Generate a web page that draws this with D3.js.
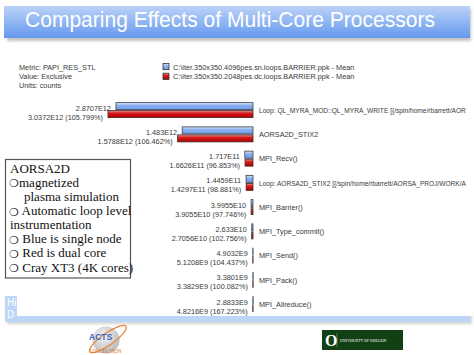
<!DOCTYPE html>
<html>
<head>
<meta charset="utf-8">
<script src="https://cdn.jsdelivr.net/npm/d3@7"></script>
<style>
html,body{margin:0;padding:0;background:#fff;}
svg{display:block;}
</style>
</head>
<body>
<div id="chart"></div>
<script>
// ---- data ----
const categories = [
  "Loop: QL_MYRA_MOD::QL_MYRA_WRITE [{/spin/home/rbarrett/AOR",
  "AORSA2D_STIX2",
  "MPI_Recv()",
  "Loop: AORSA2D_STIX2 [{/spin/home/rbarrett/AORSA_PROJ/WORK/A",
  "MPI_Barrier()",
  "MPI_Type_commit()",
  "MPI_Send()",
  "MPI_Pack()",
  "MPI_Allreduce()"
];
const blueValues = [2.8707e12, 1.483e12, 1.717e11, 1.4459e11, 3.9955e10, 2.633e10, 4.9032e9, 3.3801e9, 2.8833e9];
const redValues  = [3.0372e12, 1.5788e12, 1.6626e11, 1.4297e11, 3.9055e10, 2.7056e10, 5.1208e9, 3.3829e9, 4.8216e9];
const redPercents = [105.799, 106.462, 96.853, 98.881, 97.746, 102.756, 104.437, 100.082, 167.223];
const seriesNames = [
  "C:\\iter.350x350.4096pes.sn.loops.BARRIER.ppk - Mean",
  "C:\\iter.350x350.2048pes.dc.loops.BARRIER.ppk - Mean"
];
const metricLines = ["Metric: PAPI_RES_STL", "Value: Exclusive", "Units: counts"];
const titleText = "Comparing Effects of Multi-Core Processors";
const noteLines = [
  {b: "❍", t: "magnetized", indent: 0},
  {b: "", t: "plasma simulation", indent: 1},
  {b: "❍", t: " Automatic loop level", indent: 0},
  {b: "", t: "instrumentation", indent: 2},
  {b: "❍", t: " Blue is single node", indent: 0},
  {b: "❍", t: " Red is dual core", indent: 0},
  {b: "❍", t: " Cray XT3 (4K cores)", indent: 0}
];

// ---- drawing ----
const W = 474, H = 355;
const svg = d3.select("#chart").append("svg").attr("width", W).attr("height", H);
const defs = svg.append("defs");

const tg = defs.append("linearGradient").attr("id","titleGrad").attr("x1",0).attr("y1",0).attr("x2",0).attr("y2",1);
tg.append("stop").attr("offset",0).attr("stop-color","#bcd2f8");
tg.append("stop").attr("offset",1).attr("stop-color","#6499ee");
const sh = defs.append("filter").attr("id","shadow").attr("x","-5%").attr("y","-20%").attr("width","110%").attr("height","160%");
sh.append("feGaussianBlur").attr("stdDeviation",1.6);

const bg = defs.append("linearGradient").attr("id","blueGrad").attr("x1",0).attr("y1",0).attr("x2",0).attr("y2",1);
bg.append("stop").attr("offset",0).attr("stop-color","#d8e6fc");
bg.append("stop").attr("offset",0.4).attr("stop-color","#8ab1f0");
bg.append("stop").attr("offset",1).attr("stop-color","#6f9be6");
const rg = defs.append("linearGradient").attr("id","redGrad").attr("x1",0).attr("y1",0).attr("x2",0).attr("y2",1);
rg.append("stop").attr("offset",0).attr("stop-color","#f29090");
rg.append("stop").attr("offset",0.4).attr("stop-color","#d41818");
rg.append("stop").attr("offset",1).attr("stop-color","#b50000");

// title bar
svg.append("rect").attr("x",7).attr("y",9).attr("width",464).attr("height",32).attr("fill","#9a9a9a").attr("opacity",0.6).attr("filter","url(#shadow)");
svg.append("rect").attr("x",4).attr("y",6).attr("width",466).attr("height",32).attr("fill","url(#titleGrad)");
svg.append("text").attr("x",25).attr("y",26.5).attr("fill","#fff")
  .attr("font-family","Liberation Sans, Arial, sans-serif").attr("font-size",22.5)
  .attr("textLength",410).attr("lengthAdjust","spacingAndGlyphs").text(titleText);

// bottom band (slide element partly hidden by the chart image)
svg.append("rect").attr("x",7).attr("y",299).attr("width",465).attr("height",25).attr("fill","#a8a8a8").attr("opacity",0.5).attr("filter","url(#shadow)");
svg.append("rect").attr("x",5).attr("y",296).attr("width",465).attr("height",26).attr("fill","#bcd6f6");
svg.append("text").attr("x",7).attr("y",306).attr("fill","#fff").attr("font-family","Liberation Sans, Arial, sans-serif").attr("font-size",10).text("Hi");
svg.append("text").attr("x",7).attr("y",318).attr("fill","#fff").attr("font-family","Liberation Sans, Arial, sans-serif").attr("font-size",10).text("D");
// chart image white area
svg.append("rect").attr("x",17).attr("y",46).attr("width",460).attr("height",270).attr("fill","#fff");

const font = "Liberation Sans, Arial, sans-serif";
const fs = 7.3;
const textCol = "#3a3a3a";

// metric header
svg.append("g").selectAll("text").data(metricLines).join("text")
  .attr("x",19).attr("y",(d,i)=>70 + i*9.2)
  .attr("font-family",font).attr("font-size",fs).attr("fill",textCol).text(d=>d);

// legend
const legColors = ["url(#blueGrad)","url(#redGrad)"];
const leg = svg.append("g").selectAll("g").data(seriesNames).join("g")
  .attr("transform",(d,i)=>`translate(163,${63.5 + i*9.7})`);
leg.append("rect").attr("width",6).attr("height",6.2).attr("fill",(d,i)=>legColors[i]).attr("stroke","#333").attr("stroke-width",0.8);
leg.append("text").attr("x",10).attr("y",6).attr("font-family",font).attr("font-size",fs).attr("fill",textCol).text(d=>d);

// scales
const y = d3.scaleBand().domain(categories).range([98, 98 + 24.25*categories.length]).padding(0);
const barRight = 253;
const x = d3.scaleLinear().domain([0, d3.max(redValues)]).range([barRight, 108]);
const fmt = v => v.toExponential().replace("e+","E");

const rows = categories.map((c,i)=>({c, b: blueValues[i], r: redValues[i], p: redPercents[i], cy: y(c) + y.bandwidth()/2}));

const g = svg.append("g");
const row = g.selectAll("g.row").data(rows).join("g").attr("class","row");
// blue bars
row.append("rect")
  .attr("x", d=>x(d.b)).attr("y", d=>d.cy-7.5)
  .attr("width", d=>Math.max(barRight - x(d.b), 0.3)).attr("height",7)
  .attr("fill","url(#blueGrad)").attr("stroke","#3b3f4a").attr("stroke-width",0.8);
// red bars
row.append("rect")
  .attr("x", d=>x(d.r)).attr("y", d=>d.cy+0.5)
  .attr("width", d=>Math.max(barRight - x(d.r), 0.3)).attr("height",7)
  .attr("fill","url(#redGrad)").attr("stroke","#3b2a2a").attr("stroke-width",0.8);
// value labels
row.append("text")
  .attr("x", d=>x(d.b) - 5).attr("y", d=>d.cy+0.5).attr("text-anchor","end")
  .attr("font-family",font).attr("font-size",fs).attr("fill",textCol).text(d=>fmt(d.b));
row.append("text")
  .attr("x", d=>x(d.r) - 5).attr("y", d=>d.cy+9.5).attr("text-anchor","end")
  .attr("font-family",font).attr("font-size",fs).attr("fill",textCol)
  .text(d=>fmt(d.r) + " (" + d.p.toFixed(3) + "%)");
// category labels (long ones shrunk to stay inside the picture)
const labelX = 259, labelMax = 466 - labelX;
row.append("text")
  .attr("x", labelX).attr("y", d=>d.cy+2.7)
  .attr("font-family",font).attr("font-size",fs).attr("fill",textCol).text(d=>d.c)
  .each(function(){
    const w = this.getComputedTextLength();
    if (w > labelMax) {
      d3.select(this).attr("font-size", fs * labelMax / w);
    }
  });

// note box
const nb = svg.append("g");
nb.append("rect").attr("x",5.5).attr("y",159.5).attr("width",125).attr("height",118.5)
  .attr("fill","#fff").attr("stroke","#555").attr("stroke-width",1.2);
const serif = "Liberation Serif, Times New Roman, serif";
nb.append("text").attr("x",10).attr("y",172.7).attr("font-family",serif).attr("font-size",13).attr("fill","#111").text("AORSA2D");
const nl = nb.selectAll("g.nl").data(noteLines).join("g").attr("class","nl")
  .attr("transform",(d,i)=>`translate(0,${186.7 + i*14.15})`);
nl.append("text").attr("x",9).attr("y",0.5).attr("font-family","DejaVu Sans, sans-serif").attr("font-size",11).attr("fill","#111").text(d=>d.b);
nl.append("text").attr("x",d=> d.indent===1 ? 24 : d.indent===2 ? 10 : 19).attr("y",0)
  .attr("font-family",serif).attr("font-size",13).attr("fill","#111").style("white-space","pre").text(d=>d.t);

// ACTS logo
const acts = svg.append("g");
const gg = defs.append("radialGradient").attr("id","globe").attr("cx","40%").attr("cy","35%").attr("r","70%");
gg.append("stop").attr("offset",0).attr("stop-color","#f4f4f4");
gg.append("stop").attr("offset",1).attr("stop-color","#b8b8b8");
acts.append("circle").attr("cx",106).attr("cy",340).attr("r",13.5).attr("fill","url(#globe)");
acts.append("ellipse").attr("cx",108).attr("cy",339).attr("rx",22).attr("ry",6).attr("transform","rotate(-35,108,339)")
  .attr("fill","none").attr("stroke","#e8843a").attr("stroke-width",1.3);
acts.append("text").attr("x",89).attr("y",339.5).attr("font-family",font).attr("font-weight","bold").attr("font-size",8.5).attr("fill","#3b66b8").text("ACTS");
acts.append("text").attr("x",89).attr("y",353).attr("font-family",serif).attr("font-size",5.2).attr("fill","#d8702a").text("COLLECTION");

// University of Oregon logo
const uo = svg.append("g");
uo.append("rect").attr("x",322).attr("y",330).attr("width",81).attr("height",20).attr("fill","#123f14");
uo.append("text").attr("x",325).attr("y",346).attr("font-family",serif).attr("font-weight","bold").attr("font-size",16).attr("fill","#fff").text("O");
uo.append("line").attr("x1",337).attr("x2",337).attr("y1",333).attr("y2",347).attr("stroke","#ccc").attr("stroke-width",0.4);
uo.append("text").attr("x",340).attr("y",342).attr("font-family",serif).attr("font-size",3.9).attr("fill","#fff").text("UNIVERSITY OF OREGON");
</script>
</body>
</html>
